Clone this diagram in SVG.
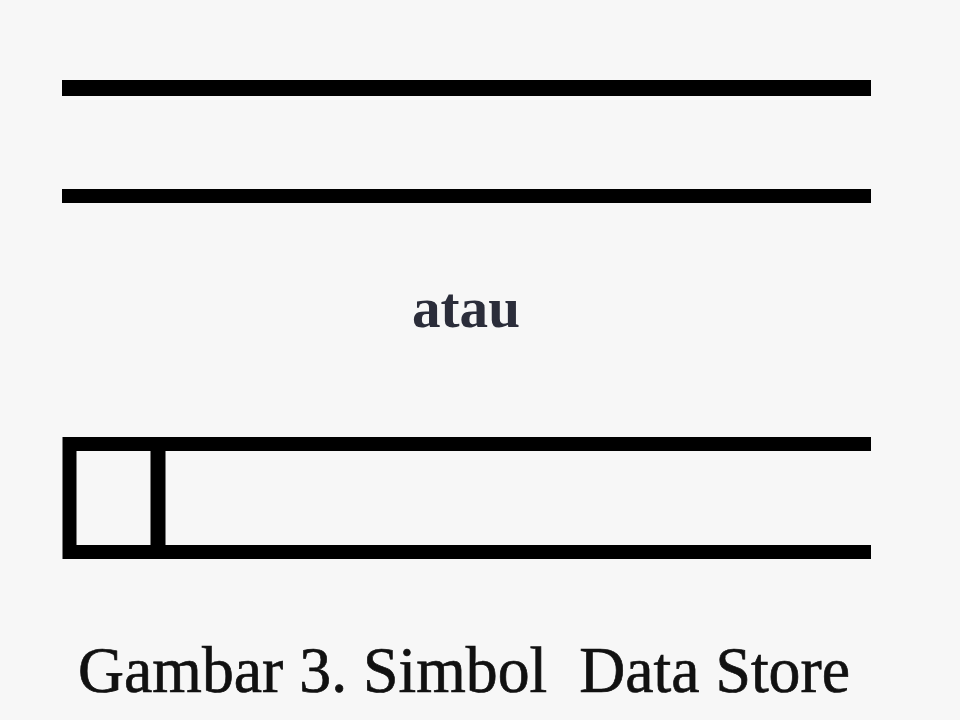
<svg xmlns="http://www.w3.org/2000/svg" width="960" height="720" viewBox="0 0 960 720">
<style>
.ln{stroke:#000;fill:none;stroke-linecap:butt}
.lbl{font-family:"Liberation Serif","Times New Roman",serif;font-weight:bold;font-size:58px;fill:#2b2d3a}
.cap{font-family:"Liberation Serif","Times New Roman",serif;font-size:66px;fill:#111;stroke:#111;stroke-width:0.7;white-space:pre}
</style>
<rect width="960" height="720" fill="#f7f7f7"/>
<g id="symbol-open-store">
<line class="ln" x1="62" y1="88" x2="871" y2="88" stroke-width="16"/>
<line class="ln" x1="62" y1="196" x2="871" y2="196" stroke-width="14"/>
</g>
<g id="label-atau">
<text class="lbl" x="466" y="327" text-anchor="middle" textLength="108" lengthAdjust="spacingAndGlyphs">atau</text>
</g>
<g id="symbol-boxed-store">
<path class="ln" d="M871 444 H69.5 V552 H871" stroke-width="14"/>
<line class="ln" x1="158" y1="444" x2="158" y2="552" stroke-width="15"/>
</g>
<g id="caption">
<text class="cap" x="78" y="692" textLength="772" lengthAdjust="spacingAndGlyphs" xml:space="preserve">Gambar 3. Simbol  Data Store</text>
</g>
</svg>
